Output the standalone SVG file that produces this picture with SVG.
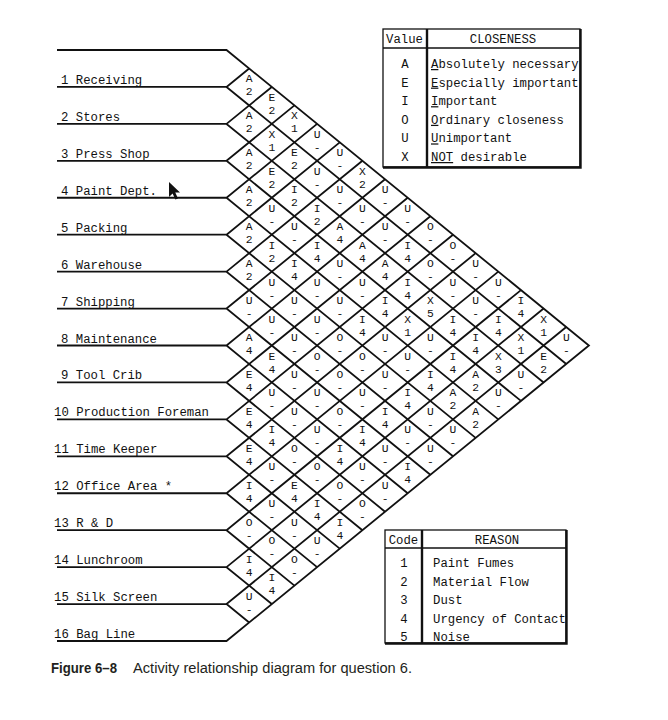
<svg xmlns="http://www.w3.org/2000/svg" width="668" height="720" viewBox="0 0 668 720">
<style>
.m{font-family:"Liberation Mono","DejaVu Sans Mono",monospace;font-size:12.3px;fill:#111}
.c{font-family:"Liberation Mono","DejaVu Sans Mono",monospace;font-size:12.3px;fill:#111;text-anchor:middle}
.cells text{font-family:"Liberation Mono","DejaVu Sans Mono",monospace;font-size:11.3px;fill:#111;text-anchor:middle}
.g{fill:none;stroke:#111;stroke-width:1.8}
.t{fill:none;stroke:#111;stroke-width:1.3}
.tt{fill:none;stroke:#111;stroke-width:2.4}
.u{text-decoration:underline}
.cap{font-family:"Liberation Sans","Open Sans",sans-serif;font-size:14px;fill:#231f20}
</style>
<rect width="668" height="720" fill="#fff"/>

<g id="connectors">
<path class="g" d="M57,50 H226.5 L588.9,345.5 L226.5,641 H57"/>
<path class="g" d="M57,86.94 H226.5 M249.15,68.47 L226.5,86.94 L566.25,363.97"/>
<path class="g" d="M57,123.88 H226.5 M271.8,86.94 L226.5,123.88 L543.6,382.44"/>
<path class="g" d="M57,160.81 H226.5 M294.45,105.41 L226.5,160.81 L520.95,400.91"/>
<path class="g" d="M57,197.75 H226.5 M317.1,123.88 L226.5,197.75 L498.3,419.38"/>
<path class="g" d="M57,234.69 H226.5 M339.75,142.34 L226.5,234.69 L475.65,437.84"/>
<path class="g" d="M57,271.63 H226.5 M362.4,160.81 L226.5,271.63 L453,456.31"/>
<path class="g" d="M57,308.56 H226.5 M385.05,179.28 L226.5,308.56 L430.35,474.78"/>
<path class="g" d="M57,345.5 H226.5 M407.7,197.75 L226.5,345.5 L407.7,493.25"/>
<path class="g" d="M57,382.44 H226.5 M430.35,216.22 L226.5,382.44 L385.05,511.72"/>
<path class="g" d="M57,419.38 H226.5 M453,234.69 L226.5,419.38 L362.4,530.19"/>
<path class="g" d="M57,456.31 H226.5 M475.65,253.16 L226.5,456.31 L339.75,548.66"/>
<path class="g" d="M57,493.25 H226.5 M498.3,271.63 L226.5,493.25 L317.1,567.13"/>
<path class="g" d="M57,530.19 H226.5 M520.95,290.09 L226.5,530.19 L294.45,585.59"/>
<path class="g" d="M57,567.13 H226.5 M543.6,308.56 L226.5,567.13 L271.8,604.06"/>
<path class="g" d="M57,604.06 H226.5 M566.25,327.03 L226.5,604.06 L249.15,622.53"/>
</g>

<g id="departments">
<text class="m" x="61" y="83.9">1 Receiving</text>
<text class="m" x="61" y="120.9">2 Stores</text>
<text class="m" x="61" y="157.8">3 Press Shop</text>
<text class="m" x="61" y="194.8">4 Paint Dept.</text>
<text class="m" x="61" y="231.7">5 Packing</text>
<text class="m" x="61" y="268.6">6 Warehouse</text>
<text class="m" x="61" y="305.6">7 Shipping</text>
<text class="m" x="61" y="342.5">8 Maintenance</text>
<text class="m" x="61" y="379.4">9 Tool Crib</text>
<text class="m" x="54" y="416.4">10 Production Foreman</text>
<text class="m" x="54" y="453.3">11 Time Keeper</text>
<text class="m" x="54" y="490.3">12 Office Area *</text>
<text class="m" x="54" y="527.2">13 R &amp; D</text>
<text class="m" x="54" y="564.1">14 Lunchroom</text>
<text class="m" x="54" y="601.1">15 Silk Screen</text>
<text class="m" x="54" y="638">16 Bag Line</text>
</g>

<path id="cursor" d="M169,182 V197 L172.6,193.6 L175.4,199.6 L178,198.4 L175.3,192.6 L180,192.6 Z" fill="#111"/>

<g class="cells" transform="translate(0,-1.5)">
<g id="band1">
<text x="249.2" y="83.9">A<tspan x="249.2" dy="13">2</tspan></text>
<text x="271.8" y="102.4">E<tspan x="271.8" dy="13">2</tspan></text>
<text x="294.5" y="120.9">X<tspan x="294.5" dy="13">1</tspan></text>
<text x="317.1" y="139.3">U<tspan x="317.1" dy="13">-</tspan></text>
<text x="339.8" y="157.8">U<tspan x="339.8" dy="13">-</tspan></text>
<text x="362.4" y="176.3">X<tspan x="362.4" dy="13">2</tspan></text>
<text x="385.1" y="194.8">U<tspan x="385.1" dy="13">-</tspan></text>
<text x="407.7" y="213.2">U<tspan x="407.7" dy="13">-</tspan></text>
<text x="430.4" y="231.7">O<tspan x="430.4" dy="13">-</tspan></text>
<text x="453" y="250.2">O<tspan x="453" dy="13">-</tspan></text>
<text x="475.7" y="268.6">U<tspan x="475.7" dy="13">-</tspan></text>
<text x="498.3" y="287.1">U<tspan x="498.3" dy="13">-</tspan></text>
<text x="521" y="305.6">I<tspan x="521" dy="13">4</tspan></text>
<text x="543.6" y="324">X<tspan x="543.6" dy="13">1</tspan></text>
<text x="566.3" y="342.5">U<tspan x="566.3" dy="13">-</tspan></text>
</g>
<g id="band2">
<text x="249.2" y="120.9">A<tspan x="249.2" dy="13">2</tspan></text>
<text x="271.8" y="139.3">X<tspan x="271.8" dy="13">1</tspan></text>
<text x="294.5" y="157.8">E<tspan x="294.5" dy="13">2</tspan></text>
<text x="317.1" y="176.3">U<tspan x="317.1" dy="13">-</tspan></text>
<text x="339.8" y="194.8">U<tspan x="339.8" dy="13">-</tspan></text>
<text x="362.4" y="213.2">U<tspan x="362.4" dy="13">-</tspan></text>
<text x="385.1" y="231.7">U<tspan x="385.1" dy="13">-</tspan></text>
<text x="407.7" y="250.2">I<tspan x="407.7" dy="13">4</tspan></text>
<text x="430.4" y="268.6">O<tspan x="430.4" dy="13">-</tspan></text>
<text x="453" y="287.1">U<tspan x="453" dy="13">-</tspan></text>
<text x="475.7" y="305.6">U<tspan x="475.7" dy="13">-</tspan></text>
<text x="498.3" y="324">I<tspan x="498.3" dy="13">4</tspan></text>
<text x="521" y="342.5">X<tspan x="521" dy="13">1</tspan></text>
<text x="543.6" y="361">E<tspan x="543.6" dy="13">2</tspan></text>
</g>
<g id="band3">
<text x="249.2" y="157.8">A<tspan x="249.2" dy="13">2</tspan></text>
<text x="271.8" y="176.3">E<tspan x="271.8" dy="13">2</tspan></text>
<text x="294.5" y="194.8">I<tspan x="294.5" dy="13">2</tspan></text>
<text x="317.1" y="213.2">I<tspan x="317.1" dy="13">2</tspan></text>
<text x="339.8" y="231.7">A<tspan x="339.8" dy="13">4</tspan></text>
<text x="362.4" y="250.2">A<tspan x="362.4" dy="13">4</tspan></text>
<text x="385.1" y="268.6">A<tspan x="385.1" dy="13">4</tspan></text>
<text x="407.7" y="287.1">I<tspan x="407.7" dy="13">4</tspan></text>
<text x="430.4" y="305.6">X<tspan x="430.4" dy="13">5</tspan></text>
<text x="453" y="324">I<tspan x="453" dy="13">4</tspan></text>
<text x="475.7" y="342.5">I<tspan x="475.7" dy="13">4</tspan></text>
<text x="498.3" y="361">X<tspan x="498.3" dy="13">3</tspan></text>
<text x="521" y="379.4">U<tspan x="521" dy="13">-</tspan></text>
</g>
<g id="band4">
<text x="249.2" y="194.8">A<tspan x="249.2" dy="13">2</tspan></text>
<text x="271.8" y="213.2">U<tspan x="271.8" dy="13">-</tspan></text>
<text x="294.5" y="231.7">U<tspan x="294.5" dy="13">-</tspan></text>
<text x="317.1" y="250.2">I<tspan x="317.1" dy="13">4</tspan></text>
<text x="339.8" y="268.6">U<tspan x="339.8" dy="13">-</tspan></text>
<text x="362.4" y="287.1">U<tspan x="362.4" dy="13">-</tspan></text>
<text x="385.1" y="305.6">I<tspan x="385.1" dy="13">4</tspan></text>
<text x="407.7" y="324">X<tspan x="407.7" dy="13">1</tspan></text>
<text x="430.4" y="342.5">U<tspan x="430.4" dy="13">-</tspan></text>
<text x="453" y="361">I<tspan x="453" dy="13">4</tspan></text>
<text x="475.7" y="379.4">A<tspan x="475.7" dy="13">2</tspan></text>
<text x="498.3" y="397.9">U<tspan x="498.3" dy="13">-</tspan></text>
</g>
<g id="band5">
<text x="249.2" y="231.7">A<tspan x="249.2" dy="13">2</tspan></text>
<text x="271.8" y="250.2">I<tspan x="271.8" dy="13">2</tspan></text>
<text x="294.5" y="268.6">I<tspan x="294.5" dy="13">4</tspan></text>
<text x="317.1" y="287.1">U<tspan x="317.1" dy="13">-</tspan></text>
<text x="339.8" y="305.6">U<tspan x="339.8" dy="13">-</tspan></text>
<text x="362.4" y="324">I<tspan x="362.4" dy="13">4</tspan></text>
<text x="385.1" y="342.5">U<tspan x="385.1" dy="13">-</tspan></text>
<text x="407.7" y="361">U<tspan x="407.7" dy="13">-</tspan></text>
<text x="430.4" y="379.4">I<tspan x="430.4" dy="13">4</tspan></text>
<text x="453" y="397.9">A<tspan x="453" dy="13">2</tspan></text>
<text x="475.7" y="416.4">A<tspan x="475.7" dy="13">2</tspan></text>
</g>
<g id="band6">
<text x="249.2" y="268.6">A<tspan x="249.2" dy="13">2</tspan></text>
<text x="271.8" y="287.1">U<tspan x="271.8" dy="13">-</tspan></text>
<text x="294.5" y="305.6">U<tspan x="294.5" dy="13">-</tspan></text>
<text x="317.1" y="324">U<tspan x="317.1" dy="13">-</tspan></text>
<text x="339.8" y="342.5">O<tspan x="339.8" dy="13">-</tspan></text>
<text x="362.4" y="361">O<tspan x="362.4" dy="13">-</tspan></text>
<text x="385.1" y="379.4">U<tspan x="385.1" dy="13">-</tspan></text>
<text x="407.7" y="397.9">I<tspan x="407.7" dy="13">4</tspan></text>
<text x="430.4" y="416.4">U<tspan x="430.4" dy="13">-</tspan></text>
<text x="453" y="434.8">U<tspan x="453" dy="13">-</tspan></text>
</g>
<g id="band7">
<text x="249.2" y="305.6">U<tspan x="249.2" dy="13">-</tspan></text>
<text x="271.8" y="324">U<tspan x="271.8" dy="13">-</tspan></text>
<text x="294.5" y="342.5">U<tspan x="294.5" dy="13">-</tspan></text>
<text x="317.1" y="361">O<tspan x="317.1" dy="13">-</tspan></text>
<text x="339.8" y="379.4">O<tspan x="339.8" dy="13">-</tspan></text>
<text x="362.4" y="397.9">U<tspan x="362.4" dy="13">-</tspan></text>
<text x="385.1" y="416.4">I<tspan x="385.1" dy="13">4</tspan></text>
<text x="407.7" y="434.8">U<tspan x="407.7" dy="13">-</tspan></text>
<text x="430.4" y="453.3">U<tspan x="430.4" dy="13">-</tspan></text>
</g>
<g id="band8">
<text x="249.2" y="342.5">A<tspan x="249.2" dy="13">4</tspan></text>
<text x="271.8" y="361">E<tspan x="271.8" dy="13">4</tspan></text>
<text x="294.5" y="379.4">U<tspan x="294.5" dy="13">-</tspan></text>
<text x="317.1" y="397.9">U<tspan x="317.1" dy="13">-</tspan></text>
<text x="339.8" y="416.4">O<tspan x="339.8" dy="13">-</tspan></text>
<text x="362.4" y="434.8">I<tspan x="362.4" dy="13">4</tspan></text>
<text x="385.1" y="453.3">U<tspan x="385.1" dy="13">-</tspan></text>
<text x="407.7" y="471.8">I<tspan x="407.7" dy="13">4</tspan></text>
</g>
<g id="band9">
<text x="249.2" y="379.4">E<tspan x="249.2" dy="13">4</tspan></text>
<text x="271.8" y="397.9">U<tspan x="271.8" dy="13">-</tspan></text>
<text x="294.5" y="416.4">U<tspan x="294.5" dy="13">-</tspan></text>
<text x="317.1" y="434.8">U<tspan x="317.1" dy="13">-</tspan></text>
<text x="339.8" y="453.3">I<tspan x="339.8" dy="13">4</tspan></text>
<text x="362.4" y="471.8">U<tspan x="362.4" dy="13">-</tspan></text>
<text x="385.1" y="490.3">U<tspan x="385.1" dy="13">-</tspan></text>
</g>
<g id="band10">
<text x="249.2" y="416.4">E<tspan x="249.2" dy="13">4</tspan></text>
<text x="271.8" y="434.8">I<tspan x="271.8" dy="13">4</tspan></text>
<text x="294.5" y="453.3">O<tspan x="294.5" dy="13">-</tspan></text>
<text x="317.1" y="471.8">O<tspan x="317.1" dy="13">-</tspan></text>
<text x="339.8" y="490.3">O<tspan x="339.8" dy="13">-</tspan></text>
<text x="362.4" y="508.7">O<tspan x="362.4" dy="13">-</tspan></text>
</g>
<g id="band11">
<text x="249.2" y="453.3">E<tspan x="249.2" dy="13">4</tspan></text>
<text x="271.8" y="471.8">U<tspan x="271.8" dy="13">-</tspan></text>
<text x="294.5" y="490.3">E<tspan x="294.5" dy="13">4</tspan></text>
<text x="317.1" y="508.7">I<tspan x="317.1" dy="13">4</tspan></text>
<text x="339.8" y="527.2">I<tspan x="339.8" dy="13">4</tspan></text>
</g>
<g id="band12">
<text x="249.2" y="490.3">I<tspan x="249.2" dy="13">4</tspan></text>
<text x="271.8" y="508.7">U<tspan x="271.8" dy="13">-</tspan></text>
<text x="294.5" y="527.2">U<tspan x="294.5" dy="13">-</tspan></text>
<text x="317.1" y="545.7">U<tspan x="317.1" dy="13">-</tspan></text>
</g>
<g id="band13">
<text x="249.2" y="527.2">O<tspan x="249.2" dy="13">-</tspan></text>
<text x="271.8" y="545.7">O<tspan x="271.8" dy="13">-</tspan></text>
<text x="294.5" y="564.1">O<tspan x="294.5" dy="13">-</tspan></text>
</g>
<g id="band14">
<text x="249.2" y="564.1">I<tspan x="249.2" dy="13">4</tspan></text>
<text x="271.8" y="582.6">I<tspan x="271.8" dy="13">4</tspan></text>
</g>
<g id="band15">
<text x="249.2" y="601.1">U<tspan x="249.2" dy="13">-</tspan></text>
</g>
</g>

<g id="closeness-table">
<rect class="t" x="383" y="29" width="197" height="138"/>
<path class="tt" d="M580.5,29 V167.5 H383"/>
<path class="t" d="M383,48 H580"/>
<path class="tt" d="M427,29 V167"/>
<text class="m" x="386" y="43">Value</text>
<text class="c" x="503" y="43">CLOSENESS</text>
<text class="c" x="405" y="68">A</text>
<text class="c" x="405" y="86.6">E</text>
<text class="c" x="405" y="105.2">I</text>
<text class="c" x="405" y="123.8">O</text>
<text class="c" x="405" y="142.4">U</text>
<text class="c" x="405" y="161">X</text>
<text class="m" x="431" y="68"><tspan class="u">A</tspan>bsolutely necessary</text>
<text class="m" x="431" y="86.6"><tspan class="u">E</tspan>specially important</text>
<text class="m" x="431" y="105.2"><tspan class="u">I</tspan>mportant</text>
<text class="m" x="431" y="123.8"><tspan class="u">O</tspan>rdinary closeness</text>
<text class="m" x="431" y="142.4"><tspan class="u">U</tspan>nimportant</text>
<text class="m" x="431" y="161"><tspan class="u">NOT</tspan> desirable</text>
</g>

<g id="reason-table">
<rect class="t" x="385" y="530" width="181" height="113"/>
<path class="tt" d="M566.5,530 V643.5 H385"/>
<path class="t" d="M385,548 H566"/>
<path class="tt" d="M422,530 V643"/>
<text class="c" x="403.5" y="544">Code</text>
<text class="c" x="497" y="544">REASON</text>
<text class="c" x="404" y="567">1</text>
<text class="c" x="404" y="585.5">2</text>
<text class="c" x="404" y="604">3</text>
<text class="c" x="404" y="622.5">4</text>
<text class="c" x="404" y="641">5</text>
<text class="m" x="433" y="567">Paint Fumes</text>
<text class="m" x="433" y="585.5">Material Flow</text>
<text class="m" x="433" y="604">Dust</text>
<text class="m" x="433" y="622.5">Urgency of Contact</text>
<text class="m" x="433" y="641">Noise</text>
</g>

<g id="caption">
<text class="cap" x="51" y="673" font-weight="bold" textLength="66" lengthAdjust="spacingAndGlyphs">Figure 6–8</text>
<text class="cap" x="133" y="673" textLength="279" lengthAdjust="spacingAndGlyphs">Activity relationship diagram for question 6.</text>
</g>
</svg>
